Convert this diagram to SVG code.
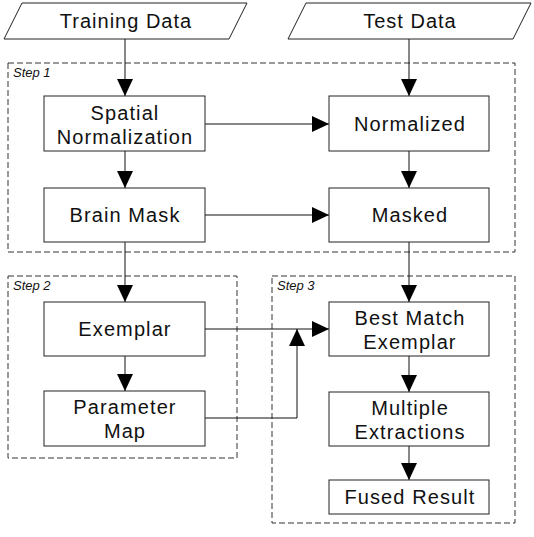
<svg xmlns="http://www.w3.org/2000/svg" width="534" height="537" viewBox="0 0 534 537">
<style>
.bg{fill:#ffffff}
.node{fill:#ffffff;stroke:#222222;stroke-width:1}
.grp{fill:none;stroke:#333333;stroke-width:1;stroke-dasharray:6,3}
.lbl{font-family:"Liberation Sans",Arial,sans-serif;font-size:20px;letter-spacing:1.1px;fill:#111111;text-anchor:middle}
.io{font-family:"Liberation Sans",Arial,sans-serif;font-size:20px;letter-spacing:1px;fill:#111111;text-anchor:middle}
.step{font-family:"Liberation Sans",Arial,sans-serif;font-size:13px;font-style:italic;fill:#111111}
.conn{fill:none;stroke:#111111;stroke-width:1}
</style>
<defs>
<marker id="arr" markerUnits="userSpaceOnUse" markerWidth="17" markerHeight="16" refX="17" refY="8" orient="auto">
<path d="M0,0 L17,8 L0,16 Z" fill="#000000"/>
</marker>
</defs>
<rect class="bg" x="0" y="0" width="534" height="537"/>
<g id="groups">
<rect id="step1" class="grp" x="8" y="63" width="507" height="189"/>
<text class="step" x="13" y="77">Step 1</text>
<rect id="step2" class="grp" x="8" y="276" width="229" height="182"/>
<text class="step" x="13" y="290">Step 2</text>
<rect id="step3" class="grp" x="272" y="276" width="243" height="247"/>
<text class="step" x="277" y="290">Step 3</text>
</g>
<g id="connectors">
<path class="conn" d="M125,39 V96" marker-end="url(#arr)"/>
<path class="conn" d="M409,39 V96" marker-end="url(#arr)"/>
<path class="conn" d="M125,151 V188" marker-end="url(#arr)"/>
<path class="conn" d="M409,151 V188" marker-end="url(#arr)"/>
<path class="conn" d="M205,124 H329" marker-end="url(#arr)"/>
<path class="conn" d="M205,215 H329" marker-end="url(#arr)"/>
<path class="conn" d="M125,242 V302" marker-end="url(#arr)"/>
<path class="conn" d="M409,242 V302" marker-end="url(#arr)"/>
<path class="conn" d="M205,329 H329" marker-end="url(#arr)"/>
<path class="conn" d="M125,356 V391" marker-end="url(#arr)"/>
<path class="conn" d="M205,418 H297 V329" marker-end="url(#arr)"/>
<path class="conn" d="M409,356 V392" marker-end="url(#arr)"/>
<path class="conn" d="M409,446 V480" marker-end="url(#arr)"/>
</g>
<g id="training-data">
<polygon class="node" points="22,3 247,3 229,39 4,39"/>
<text class="io" x="126" y="28">Training Data</text>
</g>
<g id="test-data">
<polygon class="node" points="306,3 531,3 513,39 288,39"/>
<text class="io" x="410" y="28">Test Data</text>
</g>
<g id="spatial-normalization">
<rect class="node" x="44" y="96" width="161" height="55"/>
<text class="lbl" x="125" y="120">Spatial</text>
<text class="lbl" x="125" y="144">Normalization</text>
</g>
<g id="normalized">
<rect class="node" x="329" y="96" width="160" height="55"/>
<text class="lbl" x="410" y="131">Normalized</text>
</g>
<g id="brain-mask">
<rect class="node" x="44" y="188" width="161" height="54"/>
<text class="lbl" x="125" y="222">Brain Mask</text>
</g>
<g id="masked">
<rect class="node" x="329" y="188" width="160" height="54"/>
<text class="lbl" x="410" y="222">Masked</text>
</g>
<g id="exemplar">
<rect class="node" x="44" y="302" width="161" height="54"/>
<text class="lbl" x="125" y="336">Exemplar</text>
</g>
<g id="best-match-exemplar">
<rect class="node" x="329" y="302" width="160" height="54"/>
<text class="lbl" x="410" y="325">Best Match</text>
<text class="lbl" x="410" y="349">Exemplar</text>
</g>
<g id="parameter-map">
<rect class="node" x="44" y="391" width="161" height="55"/>
<text class="lbl" x="125" y="414">Parameter</text>
<text class="lbl" x="125" y="438">Map</text>
</g>
<g id="multiple-extractions">
<rect class="node" x="329" y="392" width="160" height="54"/>
<text class="lbl" x="410" y="415">Multiple</text>
<text class="lbl" x="410" y="439">Extractions</text>
</g>
<g id="fused-result">
<rect class="node" x="329" y="480" width="160" height="34"/>
<text class="lbl" x="410" y="504">Fused Result</text>
</g>
</svg>
